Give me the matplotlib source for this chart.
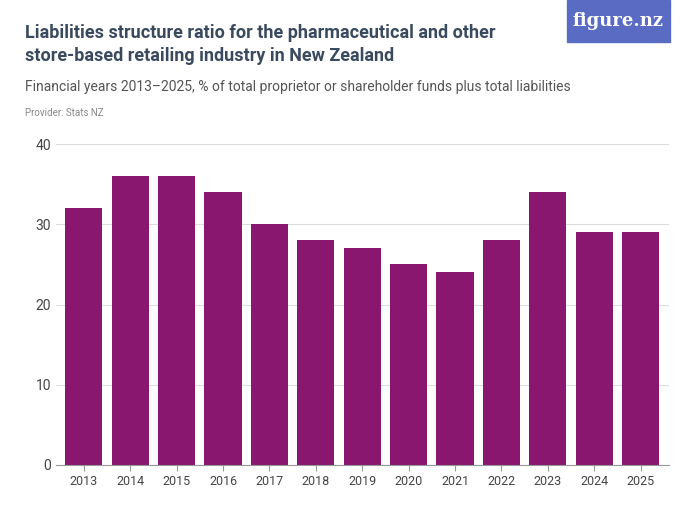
import matplotlib.pyplot as plt

years = ["2013", "2014", "2015", "2016", "2017", "2018", "2019",
         "2020", "2021", "2022", "2023", "2024", "2025"]
values = [32, 36, 36, 34, 30, 28, 27, 25, 24, 28, 34, 29, 29]

plt.rcParams['font.family'] = ['Roboto', 'DejaVu Sans']
fig = plt.figure(figsize=(7, 5.25), dpi=100)
ax = fig.add_axes([0.08, 0.115, 0.875, 0.61])

ax.bar(range(len(years)), values, width=0.8, color="#89166f", zorder=2)
ax.set_xticks(range(len(years)))
ax.set_xticklabels(years)
ax.set_ylim(0, 40)
ax.set_xlim(-0.6, len(years) - 0.4)
ax.set_yticks([0, 10, 20, 30, 40])
ax.grid(axis="y", color="#dddddd", linewidth=0.8, zorder=0)
for s in ["top", "right", "left"]:
    ax.spines[s].set_visible(False)
ax.spines["bottom"].set_color("#999999")
ax.tick_params(axis="y", length=0, colors="#444444", labelsize=10)
ax.tick_params(axis="x", length=4, color="#999999", colors="#444444", labelsize=9)

fig.text(0.035, 0.955, "Liabilities structure ratio for the pharmaceutical and other\nstore-based retailing industry in New Zealand",
         fontsize=13, fontweight="bold", color="#3a4a5e", va="top", linespacing=1.4)
fig.text(0.035, 0.848, "Financial years 2013–2025, % of total proprietor or shareholder funds plus total liabilities",
         fontsize=10, color="#555555", va="top")
fig.text(0.035, 0.795, "Provider: Stats NZ", fontsize=7, color="#888888", va="top")

fig.patches.append(plt.Rectangle((0.81, 0.92), 0.147, 0.08, transform=fig.transFigure,
                                 color="#5a6bc4", zorder=0))
fig.text(0.883, 0.96, "figure.nz", fontsize=13, color="white", ha="center",
         va="center", fontweight="bold", family="DejaVu Serif")

fig.savefig("out.png", dpi=100)
